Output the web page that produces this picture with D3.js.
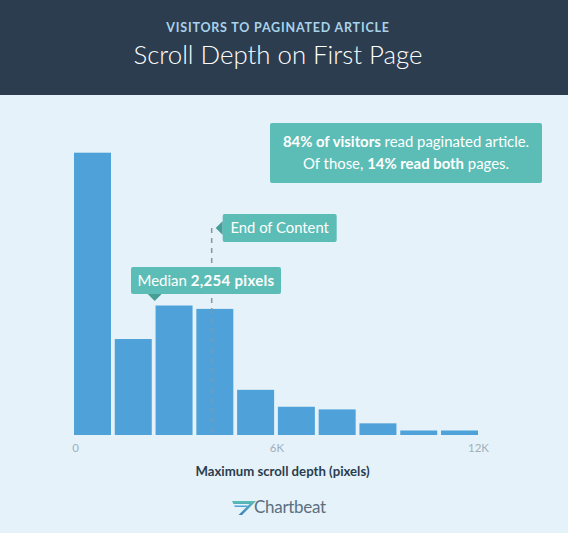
<!DOCTYPE html>
<html>
<head>
<meta charset="utf-8">
<script src="https://cdn.jsdelivr.net/npm/d3@7"></script>
<style>
html,body{margin:0;padding:0;background:#e5f2f9;}
svg{display:block;font-family:Lato,"Open Sans",sans-serif;}
</style>
</head>
<body>
<svg id="c" width="568" height="533"></svg>
<script>
// ---- data ----
const binStarts = [0, 1200, 2400, 3600, 4800, 6000, 7200, 8400, 9600, 10800];
const shares = [37.5, 12.75, 17.2, 16.75, 6.0, 3.75, 3.4, 1.55, 0.6, 0.6]; // % of visitors
const tickValues = [0, 6000, 12000];
const tickLabels = ["0", "6K", "12K"];
const medianPx = 2254;
const endOfContentPx = 4070;
const titleText = "Scroll Depth on First Page";
const subtitleText = "VISITORS TO PAGINATED ARTICLE";
const axisTitle = "Maximum scroll depth (pixels)";

const W = 568, H = 533;
const svg = d3.select("#c");
const teal = "#5cbdb6", tealDark = "#469e97";

// background
svg.append("rect").attr("width", W).attr("height", H).attr("fill", "#e5f2f9");
// header
svg.append("rect").attr("width", W).attr("height", 95).attr("fill", "#2c3d4f");
svg.append("text").attr("x", 278).attr("y", 32).attr("text-anchor", "middle")
  .attr("fill", "#a9d3ea").attr("font-size", 12.5).attr("font-weight", 700)
  .attr("letter-spacing", 0.8).text(subtitleText);
svg.append("text").attr("x", 278).attr("y", 63.5).attr("text-anchor", "middle")
  .attr("fill", "#ffffff").attr("font-size", 25.8).attr("font-weight", 300)
  .text(titleText);

// scales
const x = d3.scaleLinear().domain([0, 12000]).range([75, 478]);
const xb = d3.scaleBand().domain(binStarts).range([74, 478]).paddingInner(0.093).paddingOuter(0);
const y = d3.scaleLinear().domain([0, 40]).range([435, 435 - 40 * 7.528]);

// bars
svg.append("g").selectAll("rect").data(binStarts).join("rect")
  .attr("x", d => xb(d)).attr("width", xb.bandwidth())
  .attr("y", (d, i) => y(shares[i])).attr("height", (d, i) => y(0) - y(shares[i]))
  .attr("fill", "#4fa2d9");

// axis
const ax = svg.append("g").attr("transform", "translate(0,441)")
  .call(d3.axisBottom(x).tickValues(tickValues).tickSize(0).tickFormat((d, i) => tickLabels[i]));
ax.select(".domain").remove();
ax.selectAll("text").attr("fill", "#9fb0bb").attr("font-size", 11.5)
  .attr("font-family", "Lato, sans-serif").attr("dy", "0.71em");
svg.append("text").attr("x", 282.5).attr("y", 476).attr("text-anchor", "middle")
  .attr("fill", "#2c3d4f").attr("font-size", 13.2).attr("font-weight", 700).text(axisTitle);

// end of content dashed line
const ex = x(endOfContentPx);
svg.append("line").attr("x1", ex).attr("x2", ex).attr("y1", 228).attr("y2", y(0))
  .attr("stroke", "#8796a1").attr("stroke-width", 1.5).attr("stroke-dasharray", "5,5");
// end of content label
svg.append("path").attr("d", `M${ex+4},228 L${ex+11},221 L${ex+11},235 Z`).attr("fill", tealDark);
svg.append("rect").attr("x", ex + 11).attr("y", 214).attr("width", 114).attr("height", 28).attr("rx", 2).attr("fill", teal);
svg.append("text").attr("x", ex + 68).attr("y", 233).attr("text-anchor", "middle")
  .attr("fill", "#fff").attr("font-size", 14.8).text("End of Content");

// median label
const mx = x(medianPx) + 4;
svg.append("rect").attr("x", 131).attr("y", 267).attr("width", 150).attr("height", 27).attr("rx", 2).attr("fill", teal);
svg.append("path").attr("d", `M${mx-7},294 L${mx+7},294 L${mx},301 Z`).attr("fill", tealDark);
const mt = svg.append("text").attr("x", 206).attr("y", 285.5).attr("text-anchor", "middle")
  .attr("fill", "#fff").attr("font-size", 15);
mt.append("tspan").text("Median ");
mt.append("tspan").attr("font-weight", 700).attr("letter-spacing", 0.3).text(d3.format(",")(medianPx) + " pixels");

// summary box
svg.append("rect").attr("x", 270).attr("y", 123).attr("width", 272).attr("height", 60).attr("rx", 2).attr("fill", teal);
const l1 = svg.append("text").attr("x", 406).attr("y", 147).attr("text-anchor", "middle").attr("fill", "#fff").attr("font-size", 14.9);
l1.append("tspan").attr("font-weight", 700).text("84% of visitors");
l1.append("tspan").text(" read paginated article.");
const l2 = svg.append("text").attr("x", 406).attr("y", 169).attr("text-anchor", "middle").attr("fill", "#fff").attr("font-size", 14.9);
l2.append("tspan").text("Of those, ");
l2.append("tspan").attr("font-weight", 700).text("14% read both");
l2.append("tspan").text(" pages.");

// logo
const defs = svg.append("defs");
const g = defs.append("linearGradient").attr("id", "lg").attr("x1", "0").attr("y1", "0").attr("x2", "0").attr("y2", "1");
g.append("stop").attr("offset", "0").attr("stop-color", "#5cbdb6");
g.append("stop").attr("offset", "1").attr("stop-color", "#3f7fbf");
svg.append("path").attr("d", "M232,501 L256,501 L242,515 L238.5,515 L249.5,504 L233.5,504 Z").attr("fill", "url(#lg)");
svg.append("path").attr("d", "M234,505.5 L248,505.5 L246.5,507 L235,507 Z").attr("fill", "#4fa2d9");
svg.append("text").attr("x", 254).attr("y", 513).attr("fill", "#5b6f80").attr("font-size", 17)
  .attr("letter-spacing", -0.3).text("Chartbeat");
</script>
</body>
</html>
